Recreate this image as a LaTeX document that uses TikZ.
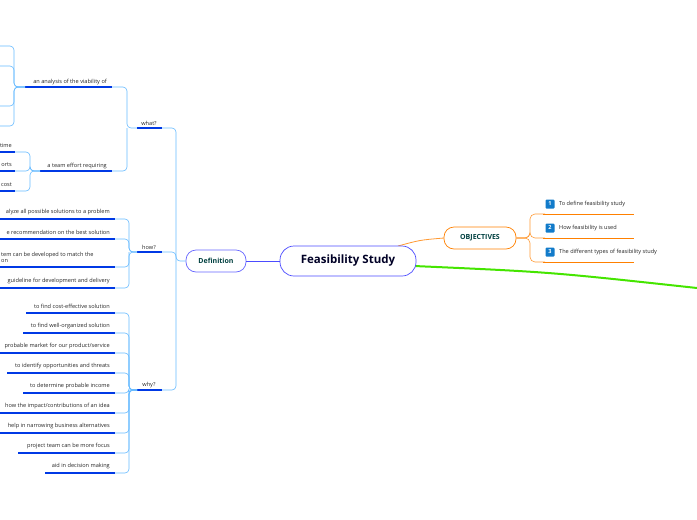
\documentclass[tikz,border=0pt]{standalone}
\usepackage{fontspec}
\setmainfont{Open Sans}
\begin{document}
\begin{tikzpicture}[x=1pt,y=-1pt,
  conn/.style={draw=blue!45!cyan!60,line width=0.6pt,rounded corners=4pt},
  uline/.style={draw=blue!75!cyan!90!black,line width=1.3pt},
  oline/.style={draw=orange,line width=0.9pt},
  lab/.style={font=\fontsize{5.6}{6.6}\selectfont,inner sep=1pt,text=black!85},
  box/.style={draw=blue!60,rounded corners=8pt,line width=0.7pt,fill=white}]
\useasboundingbox (0,0) rectangle (697,520);
\clip (0,0) rectangle (697,520);
% central
\draw[green!70!yellow!90!black,line width=2pt] (414,266) .. controls (550,272) .. (697,288);
\draw[orange!80,line width=0.8pt] (398,246) .. controls (420,240) .. (444,238);
\node[box,draw=blue!70,minimum width=136pt,minimum height=30pt,rounded corners=14pt,font=\bfseries\fontsize{11.5}{13}\selectfont,text=black!85!blue] (fs) at (348,261) {Feasibility Study};
\node[box,minimum width=60pt,minimum height=22pt,rounded corners=10pt,font=\bfseries\fontsize{7}{8}\selectfont,text=teal!50!black] (def) at (216,261) {Definition};
\node[box,draw=orange,minimum width=72pt,minimum height=22pt,rounded corners=10pt,font=\bfseries\fontsize{7}{8}\selectfont,text=teal!50!black] (obj) at (480,238) {OBJECTIVES};
\draw[blue!70,line width=0.7pt] (def.east) -- (fs.west);
% objectives
\foreach \y/\n/\t in {204/1/{To define feasibility study},228/2/{How feasibility is used},252/3/{The different types of feasibility study}}{
  \draw[orange!80,line width=0.6pt,rounded corners=5pt] (obj.east) -- (530,238) -- (530,\y+10) -- (545,\y+10);
  \node[fill=cyan!60!blue,text=white,font=\bfseries\fontsize{5.5}{6}\selectfont,minimum size=9pt,inner sep=0pt,rounded corners=1pt] (n\n) at (550,\y) {\n};
  \node[lab,anchor=west] (o\n) at (558,\y) {\t};
  \draw[oline] (543,\y+10) -- (634,\y+10);
}
% definition branches
\draw[conn] (def.west) -- (176,261) -- (176,128) -- (162,128);
\draw[conn] (176,261) -- (176,390) -- (162,390);
\draw[conn] (176,261) -- (176,252) -- (162,252);
\node[lab,anchor=south] (what) at (149,127) {what?};
\draw[uline] (137,128) -- (162,128);
\node[lab,anchor=south] (how) at (149,251) {how?};
\draw[uline] (137,252) -- (162,252);
\node[lab,anchor=south] (why) at (149,389) {why?};
\draw[uline] (137,390) -- (162,390);
% what
\draw[conn] (137,128) -- (127,128) -- (127,87) -- (112,87);
\draw[conn] (127,128) -- (127,171) -- (112,171);
\node[lab,anchor=south east] (an) at (108,86) {an analysis of the viability of};
\draw[uline] (25,87) -- (112,87);
\node[lab,anchor=south east] (te) at (108,170) {a team effort requiring};
\draw[uline] (40,171) -- (112,171);
\foreach \y in {46,66,106,126}{\draw[conn] (25,87) -- (14,87) -- (14,\y) -- (0,\y);}
\foreach \y/\t in {152/time,171/orts,191/cost}{
  \draw[conn] (40,171) -- (30,171) -- (30,\y) -- (0,\y);
  \node[lab,anchor=south east] at (13,\y-3) {\t};
  \draw[uline] (0,\y) -- (15,\y);
}
% how
\foreach \y/\t in {219/{alyze all possible solutions to a problem},239/{e recommendation on the best solution},288/{guideline for development and delivery}}{
  \draw[conn] (137,252) -- (129,252) -- (129,\y) -- (115,\y);
  \node[lab,anchor=south east] at (111,\y-3) {\t};
  \draw[uline] (0,\y) -- (115,\y);
}
\draw[conn] (129,252) -- (129,267) -- (115,267);
\node[lab,anchor=south west,align=left] at (0,264) {tem can be developed to match the\\on};
\draw[uline] (0,267) -- (115,267);
% why
\foreach \y/\t/\s in {313/{to find cost-effective solution}/26,333/{to find well-organized solution}/23,353/{probable market for our product/service}/0,373/{to identify opportunities and threats}/7,393/{to determine probable income}/23,413/{how the impact/contributions of an idea}/0,433/{help in narrowing business alternatives}/0,453/{project team can be more focus}/18,473/{aid in decision making}/45}{
  \draw[conn] (137,390) -- (129,390) -- (129,\y) -- (115,\y);
  \node[lab,anchor=south east] at (111,\y-3) {\t};
  \draw[uline] (\s,\y) -- (115,\y);
}
\end{tikzpicture}
\end{document}
